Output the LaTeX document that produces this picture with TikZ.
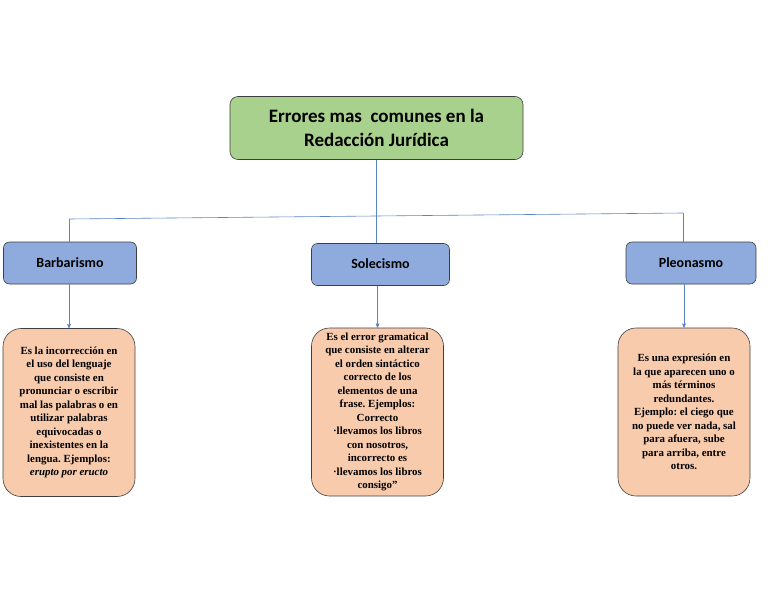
\documentclass[tikz,border=0pt]{standalone}
\usepackage{fontspec}
\setmainfont{Liberation Serif}
\newfontfamily\calibri{Carlito}
\usetikzlibrary{arrows}
\definecolor{titlegreen}{HTML}{A9D18E}
\definecolor{termblue}{HTML}{8FAADC}
\definecolor{defpeach}{HTML}{F8CBAD}
\definecolor{linkblue}{HTML}{5B84C4}
\definecolor{boxline}{HTML}{3F3F3F}
\frenchspacing

\begin{document}
\begin{tikzpicture}[x=1pt, y=-1pt, >=stealth',
                    link/.style={draw=linkblue, line width=0.6pt},
                    arrow/.style={link, ->, shorten >=0pt}]
\tikzstyle{every node}=[draw=boxline, line width=0.6pt, align=center, inner sep=2pt]
\tikzstyle{titlebox}=[fill=titlegreen, rounded corners=8pt, minimum width=293pt,
                      minimum height=63pt, font=\calibri\bfseries\fontsize{19}{24}\selectfont]
\tikzstyle{termbox}=[fill=termblue, rounded corners=6pt, minimum width=133pt,
                     minimum height=42pt, text depth=1pt, font=\calibri\bfseries\fontsize{14}{16}\selectfont]
\tikzstyle{defbox}=[fill=defpeach, rounded corners=18pt, minimum width=132pt,
                    minimum height=168pt, font=\bfseries\fontsize{10.9}{13.5}\selectfont]
\useasboundingbox (0,0) rectangle (768,594);

\node [titlebox] (title) at (376.5,128) {Errores mas\ \ comunes en la\\Redacción Jurídica};

\node [termbox] (barb) at (70,263) {Barbarismo};
\node [termbox, minimum width=138pt] (sole) at (380.5,264.5) {Solecismo};
\node [termbox, minimum width=130pt] (pleo) at (691,263) {Pleonasmo};

\node [defbox] (dbarb) at (69,412.5) {Es la incorrección en\\el uso del lenguaje\\que consiste en\\pronunciar o escribir\\mal las palabras o en\\utilizar palabras\\equivocadas o\\inexistentes en la\\lengua. Ejemplos:\\\textit{erupto por eructo}};
\node [defbox] (dsole) at (377.5,412) {Es el error gramatical\\que consiste en alterar\\el orden sintáctico\\correcto de los\\elementos de una\\frase. Ejemplos:\\Correcto\\·llevamos los libros\\con nosotros,\\incorrecto es\\·llevamos los libros\\consigo''};
\node [defbox] (dpleo) at (684,412) {Es una expresión en\\la que aparecen uno o\\más términos\\redundantes.\\Ejemplo: el ciego que\\no puede ver nada, sal\\para afuera, sube\\para arriba, entre\\otros.};

% ramas
\coordinate (jl) at (69,219);
\coordinate (jr) at (683,213);
\path [link] (title.south) -- (title.south |- sole.north);
\path [link] (jl) -- (jr);
\path [link] (jl) -- (jl |- barb.north);
\path [link] (jr) -- (jr |- pleo.north);

\path [arrow] (barb.south -| dbarb.north) -- (dbarb.north);
\path [arrow] (sole.south -| dsole.north) -- (dsole.north);
\path [arrow] (pleo.south -| dpleo.north) -- (dpleo.north);
\end{tikzpicture}
\end{document}
